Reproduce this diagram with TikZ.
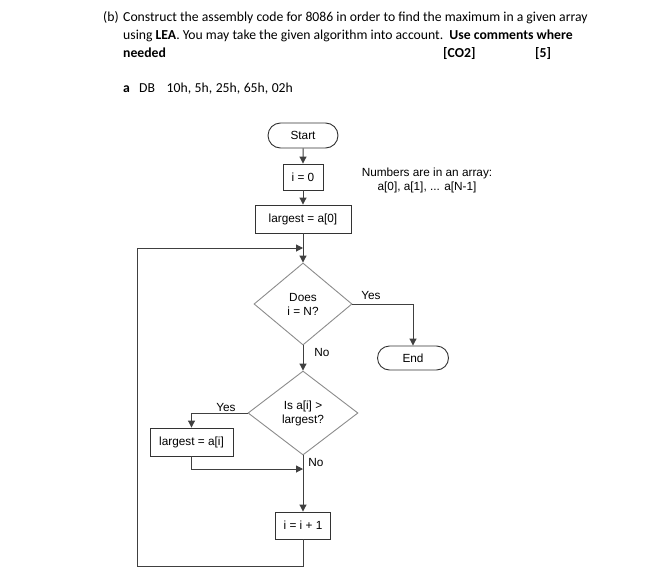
\documentclass[tikz,border=0pt]{standalone}
\usepackage{fontspec}
\setmainfont{Carlito}
\newfontfamily\arialf{Liberation Sans}
\usetikzlibrary{arrows.meta,shapes.geometric,shapes.misc}
\tikzset{
  hdr/.style={anchor=base west,inner sep=0pt,font=\fontsize{13.7}{16}\selectfont},
  fc/.style={font=\arialf\fontsize{11.8}{14}\selectfont,inner sep=0pt,align=center},
  term/.style={fc,rounded rectangle,draw=black!80,line width=0.9pt,minimum width=70pt,minimum height=25pt},
  proc/.style={fc,rectangle,draw=black!80,line width=0.9pt},
  dec/.style={fc,diamond,draw=black!45,line width=0.9pt},
  arr/.style={draw=black!75,line width=1pt,-{Triangle[length=7pt,width=7pt]}},
  lab/.style={fc}
}
\begin{document}
\begin{tikzpicture}[x=1pt,y=-1pt]
\useasboundingbox[fill=white] (0,0) rectangle (671,586);
% header
\node[hdr] (h1) at (103,21.5) {(b)};
\node[hdr] (h1b) at (123,21.5) {Construct the assembly code for 8086 in order to find the maximum in a given array};
\node[hdr] (h2) at (123,39.5) {using \textbf{LEA}. You may take the given algorithm into account.\ \ \textbf{Use comments where}};
\node[hdr] (h3) at (123,57.5) {\textbf{needed}};
\node[hdr] (h4) at (443,57.5) {\textbf{[CO2]}};
\node[hdr] (h5) at (535,57.5) {\textbf{[5]}};
\node[hdr] (h6a) at (123,92.5) {\textbf{a}};
\node[hdr] (h6b) at (139,92.5) {DB};
\node[hdr] (h6c) at (166.5,92.5) {10h,\hspace{3.5pt}5h,\hspace{3.5pt}25h,\hspace{3.5pt}65h,\hspace{3.5pt}02h};
% flowchart
\node[term] (start) at (303,135.5) {Start};
\node[proc,minimum width=40pt,minimum height=26pt] (i0) at (303,177) {i = 0};
\node[proc,minimum width=96pt,minimum height=28pt] (lg0) at (303,219) {largest = a[0]};
\node[fc] (note) at (427,180) {Numbers are in an array:\\a[0], a[1], ... a[N-1]};
\node[dec,minimum width=98pt,minimum height=82pt] (d1) at (303,304) {Does\\i = N?};
\node[term,minimum width=71pt,minimum height=24pt] (end) at (413,358) {End};
\node[dec,minimum width=110pt,minimum height=84pt] (d2) at (303,413) {Is a[i] >\\largest?};
\node[proc,minimum width=83pt,minimum height=28pt] (lgi) at (191.5,442) {largest = a[i]};
\node[proc,minimum width=55pt,minimum height=27pt] (inc) at (303,525.5) {i = i + 1};
% labels
\node[lab] (y1) at (371,295) {Yes};
\node[lab] (n1) at (322,352) {No};
\node[lab] (y2) at (226,407) {Yes};
\node[lab] (n2) at (316,462) {No};
% coordinates
\coordinate (j) at (303,469);
\coordinate (m) at (303,248);
\coordinate (b1) at (303,566);
\coordinate (b2) at (137,566);
\coordinate (b3) at (137,248);
% connectors
\draw[arr] (start) -- (i0);
\draw[arr] (i0) -- (lg0);
\draw[arr] (lg0) -- (d1);
\draw[arr] (d1.east) -| (end.north);
\draw[arr] (d1.south) -- (d2.north);
\draw[arr] (d2.west) -| (lgi.north);
\draw[arr] (lgi.south) |- (j);
\draw[arr] (d2.south) -- (inc.north);
\draw[arr] (inc.south) -- (b1) -- (b2) -- (b3) -- (m);
\end{tikzpicture}
\end{document}
